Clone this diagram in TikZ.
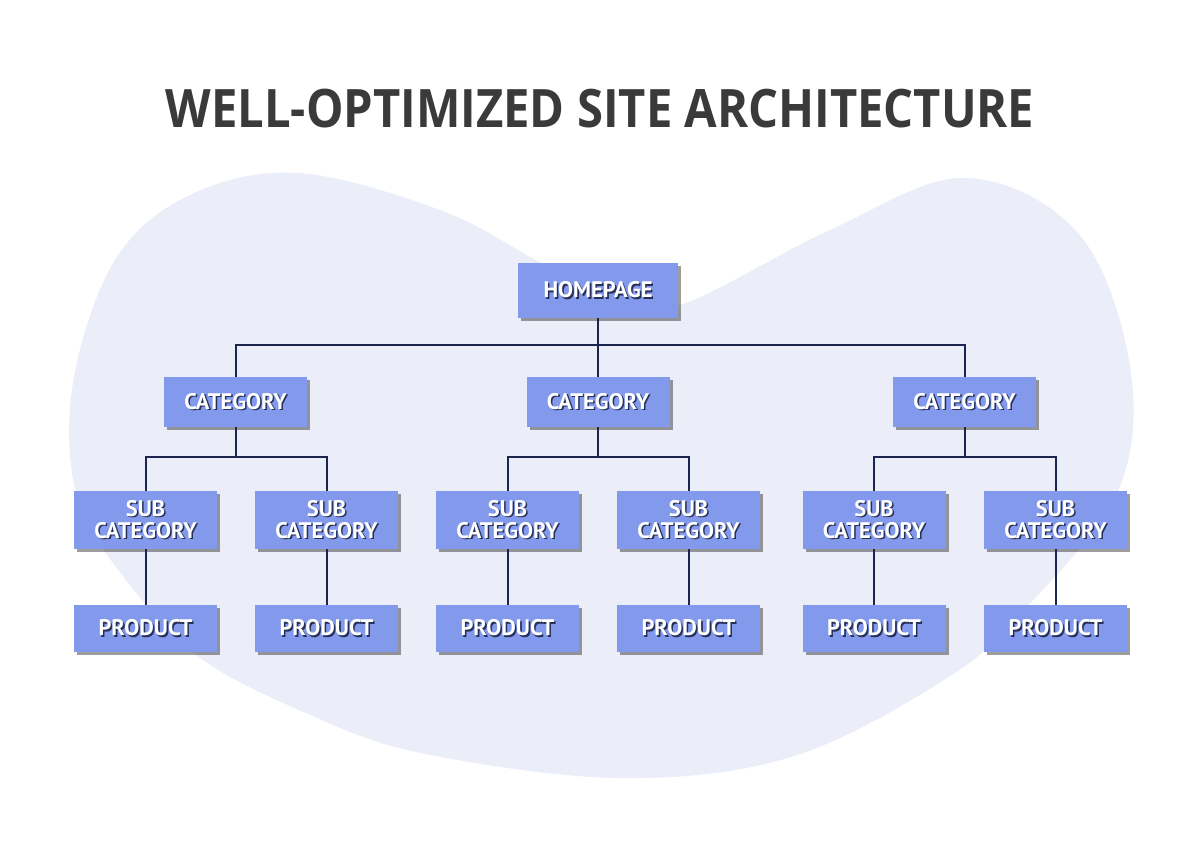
\documentclass[tikz,border=0pt]{standalone}
\usepackage{fontspec}
\setmainfont{PT Sans}
\newfontfamily\titlefont{Open Sans}
\usetikzlibrary{shadows}
\definecolor{blobcol}{HTML}{EBEDF9}
\definecolor{boxfill}{HTML}{8299EC}
\definecolor{conncol}{HTML}{1C2550}
\definecolor{titlecol}{HTML}{3A3A3A}
\definecolor{txtshadow}{HTML}{27305A}
\newcommand\shtxt[1]{\makebox[0pt][l]{\hspace{1.6pt}\raisebox{-1.6pt}{\color{txtshadow}#1}}#1}
\begin{document}
\begin{tikzpicture}[x=1pt,y=-1pt,
  boxnode/.style={fill=boxfill, draw=none, inner sep=0pt, minimum width=143pt,
    text=white, font=\bfseries\fontsize{22.5}{22}\selectfont, align=center,
    drop shadow={shadow xshift=3pt, shadow yshift=-3pt, opacity=.45, fill=black!85}},
  catbox/.style={boxnode, minimum height=50pt},
  subbox/.style={boxnode, minimum height=58pt},
  prodbox/.style={boxnode, minimum height=47pt},
  conn/.style={draw=conncol, line width=2pt}]
\useasboundingbox (0,0) rectangle (1200,844);
\fill[white] (0,0) rectangle (1200,844);
% background blob
\fill[blobcol] plot[smooth cycle, tension=0.6] coordinates {
  (298,173) (440,210) (536,260) (610,298) (680,305) (830,230) (964,178)
  (1078,233) (1130,367) (1117,493) (1021,613) (944,680) (791,757) (620,778)
  (421,753) (306,713) (199,657) (126,580) (77,497) (73,383) (115,260) (190,195)};
% title
\node[font=\titlefont\bfseries\fontsize{53}{60}\selectfont, text=titlecol] (title) at (600,109) {\scalebox{0.89}[1]{WELL-OPTIMIZED SITE ARCHITECTURE}};
% nodes
\node[boxnode, minimum width=160pt, minimum height=55pt] (home) at (598,290.5) {\shtxt{HOMEPAGE}};
\node[catbox] (cat1) at (235.5,402) {\shtxt{CATEGORY}};
\node[catbox] (cat2) at (598,402) {\shtxt{CATEGORY}};
\node[catbox] (cat3) at (964.5,402) {\shtxt{CATEGORY}};
\node[subbox] (sub1) at (145.5,520) {\shtxt{SUB}\\\shtxt{CATEGORY}};
\node[subbox] (sub2) at (326.5,520) {\shtxt{SUB}\\\shtxt{CATEGORY}};
\node[subbox] (sub3) at (507.5,520) {\shtxt{SUB}\\\shtxt{CATEGORY}};
\node[subbox] (sub4) at (688.5,520) {\shtxt{SUB}\\\shtxt{CATEGORY}};
\node[subbox] (sub5) at (874,520) {\shtxt{SUB}\\\shtxt{CATEGORY}};
\node[subbox] (sub6) at (1055.5,520) {\shtxt{SUB}\\\shtxt{CATEGORY}};
\node[prodbox] (prod1) at (145.5,628.5) {\shtxt{PRODUCT}};
\node[prodbox] (prod2) at (326.5,628.5) {\shtxt{PRODUCT}};
\node[prodbox] (prod3) at (507.5,628.5) {\shtxt{PRODUCT}};
\node[prodbox] (prod4) at (688.5,628.5) {\shtxt{PRODUCT}};
\node[prodbox] (prod5) at (874,628.5) {\shtxt{PRODUCT}};
\node[prodbox] (prod6) at (1055.5,628.5) {\shtxt{PRODUCT}};
% connectors
\draw[conn] (home.south) -- (home.south |- 0,345);
\draw[conn] (cat1.north) -- (cat1.north |- 0,345) -- (cat3.north |- 0,345) -- (cat3.north);
\draw[conn] (home.south |- 0,345) -- (cat2.north);
\foreach \c/\a/\b in {cat1/sub1/sub2, cat2/sub3/sub4, cat3/sub5/sub6}{
  \draw[conn] (\c.south) -- (\c.south |- 0,457);
  \draw[conn] (\a.north) -- (\a.north |- 0,457) -- (\b.north |- 0,457) -- (\b.north);
}
\foreach \s/\p in {sub1/prod1, sub2/prod2, sub3/prod3, sub4/prod4, sub5/prod5, sub6/prod6}{
  \draw[conn] (\s.south) -- (\p.north);
}
\end{tikzpicture}
\end{document}
